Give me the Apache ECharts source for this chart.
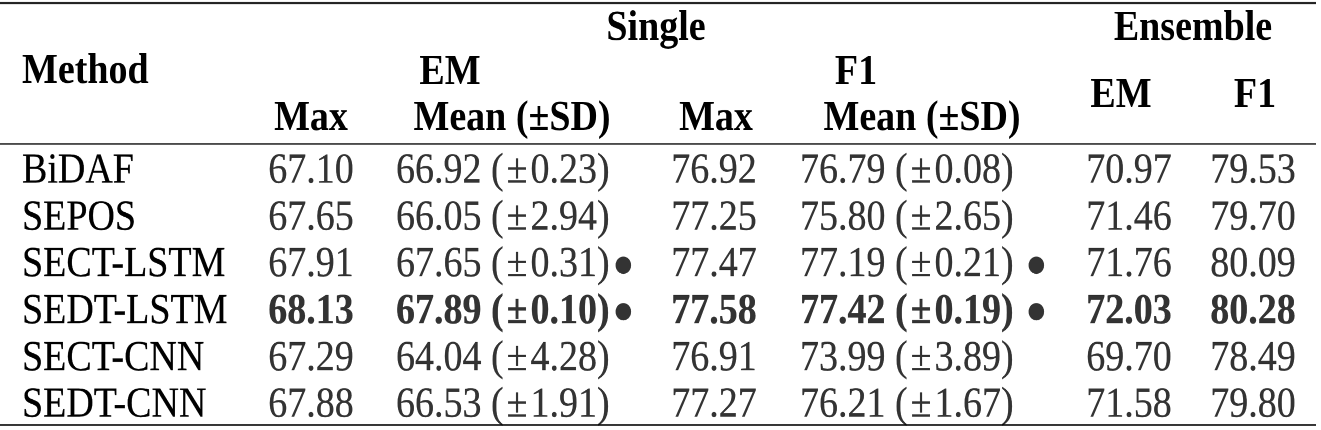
<!DOCTYPE html>
<html lang="en">
<head>
    <meta charset="UTF-8">
    <title>Results table</title>
    <script type="text/javascript" src="https://cdn.jsdelivr.net/npm/echarts@6/dist/echarts.min.js"></script>
    <style>
        html, body { margin: 0; padding: 0; background: #fff; }
        #wrap { width: 1321px; height: 430px; }
        /* the source table is set slightly tall: stretch the drawing vertically */
        #chartmain { width: 1321px; height: 384px; transform: scaleY(1.1198); transform-origin: 0 0; }
    </style>
</head>

<body>
<div id="wrap"><div id="chartmain"></div></div>
<script>
    // table data
    var methods = ['BiDAF', 'SEPOS', 'SECT-LSTM', 'SEDT-LSTM', 'SECT-CNN', 'SEDT-CNN'];
    var emMax   = [67.10, 67.65, 67.91, 68.13, 67.29, 67.88];
    var emMean  = [66.92, 66.05, 67.65, 67.89, 64.04, 66.53];
    var emSD    = [0.23, 2.94, 0.31, 0.10, 4.28, 1.91];
    var f1Max   = [76.92, 77.25, 77.47, 77.58, 76.91, 77.27];
    var f1Mean  = [76.79, 75.80, 77.19, 77.42, 73.99, 76.21];
    var f1SD    = [0.08, 2.65, 0.21, 0.19, 3.89, 1.67];
    var ensEM   = [70.97, 71.46, 71.76, 72.03, 69.70, 71.58];
    var ensF1   = [79.53, 79.70, 80.09, 80.28, 78.49, 79.80];
    var marked  = ['SECT-LSTM', 'SEDT-LSTM'];   // rows with the bullet
    var best    = 'SEDT-LSTM';                  // bold row

    var FONT = 'Liberation Serif';
    var SIZE = 38;
    var K = 1.1198;                             // vertical stretch of the page
    function Y(v) { return v / K; }

    function f2(v) { return v.toFixed(2); }

    function meanText(i, mean, sd, bulletTag) {
        var s = f2(mean[i]) + ' ({pm|\u00b1}' + f2(sd[i]) + ')';
        if (marked.indexOf(methods[i]) >= 0) s += '{' + bulletTag + '|\u25cf}';
        return s;
    }

    // column layout: x position on the value axis and text anchor
    var columns = [
        { name: 'EM Max',      x: 311,  align: 'center', text: function (i) { return f2(emMax[i]); } },
        { name: 'EM Mean',     x: 396,  align: 'left',   text: function (i) { return meanText(i, emMean, emSD, 'b1'); } },
        { name: 'F1 Max',      x: 714,  align: 'center', text: function (i) { return f2(f1Max[i]); } },
        { name: 'F1 Mean',     x: 800,  align: 'left',   text: function (i) { return meanText(i, f1Mean, f1SD, 'b2'); } },
        { name: 'Ensemble EM', x: 1129, align: 'center', text: function (i) { return f2(ensEM[i]); } },
        { name: 'Ensemble F1', x: 1253, align: 'center', text: function (i) { return f2(ensF1[i]); } }
    ];

    var ink = { color: '#000', textBorderColor: '#000', textBorderWidth: 0.25 };

    var series = columns.map(function (col) {
        return {
            name: col.name,
            type: 'scatter',
            symbolSize: 0,
            silent: true,
            data: methods.map(function (m, i) {
                var w = m === best ? 'bold' : 'normal';
                return {
                    value: [col.x, m],
                    label: Object.assign({
                        show: true,
                        position: 'inside',
                        align: col.align,
                        verticalAlign: 'middle',
                        formatter: col.text(i),
                        fontFamily: FONT,
                        fontSize: SIZE,
                        fontWeight: w,
                        rich: {
                            pm: Object.assign({ fontFamily: FONT, fontSize: SIZE, fontWeight: w, padding: [0, 3, 0, 3] }, ink),
                            b1: { fontFamily: 'DejaVu Sans', fontSize: 20, color: '#000', padding: [0, 0, 0, 5] },
                            b2: { fontFamily: 'DejaVu Sans', fontSize: 20, color: '#000', padding: [0, 0, 0, 14] }
                        }
                    }, ink)
                };
            })
        };
    });

    function head(text, x, y, align) {
        return {
            type: 'text',
            silent: true,
            style: {
                text: text, x: x, y: Y(y),
                align: align || 'center', verticalAlign: 'middle',
                font: 'bold ' + SIZE + 'px "' + FONT + '"',
                fill: '#000'
            }
        };
    }

    function rule(y, w) {
        return {
            type: 'line',
            silent: true,
            shape: { x1: 0, y1: Y(y), x2: 1316, y2: Y(y) },
            style: { stroke: '#222', lineWidth: w }
        };
    }

    var option = {
        animation: false,
        grid: { left: 0, right: 0, top: Y(148), height: Y(281) },
        xAxis: { type: 'value', min: 0, max: 1321, show: false },
        yAxis: {
            type: 'category',
            data: methods,
            inverse: true,
            axisLine: { show: false },
            axisTick: { show: false },
            splitLine: { show: false },
            axisLabel: Object.assign({
                inside: true,
                interval: 0,
                margin: 22,
                fontFamily: FONT,
                fontSize: SIZE
            }, ink)
        },
        series: series,
        graphic: [
            rule(3, 1.8),
            rule(144, 1.4),
            rule(425, 1.8),
            head('Single', 656, 29),
            head('Ensemble', 1193, 29),
            head('Method', 22, 72, 'left'),
            head('EM', 450, 73),
            head('F1', 856, 73),
            head('Max', 311, 119),
            head('Mean (\u00b1SD)', 512, 119),
            head('Max', 716, 119),
            head('Mean (\u00b1SD)', 922, 119),
            head('EM', 1121, 96),
            head('F1', 1255, 96)
        ]
    };

    var myChart = echarts.init(document.getElementById('chartmain'), null, { devicePixelRatio: 2 });
    myChart.setOption(option);
</script>
</body>
</html>
